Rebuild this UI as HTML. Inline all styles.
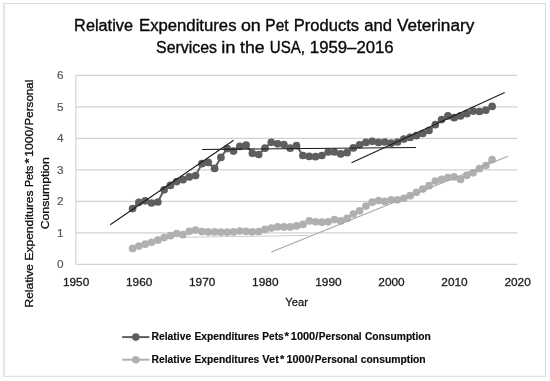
<!DOCTYPE html>
<html><head><meta charset="utf-8"><title>Relative Expenditures on Pet Products and Veterinary Services in the USA</title>
<style>
html,body{margin:0;padding:0;background:#fff;}
body{width:550px;height:381px;overflow:hidden;}
svg{display:block;font-family:"Liberation Sans",sans-serif;}
</style></head><body>
<svg width="550" height="381" viewBox="0 0 550 381">
<rect x="0" y="0" width="550" height="381" fill="#fff"/>
<rect x="3.5" y="3.5" width="542" height="372.8" fill="#fff" stroke="#dcdcdc" stroke-width="1"/>
<line x1="4.6" x2="4.6" y1="4" y2="375.8" stroke="#ececec" stroke-width="1.2"/>
<g fill="#0a0a0a" stroke="#0a0a0a" stroke-width="0.35" font-size="15.8px">
<text x="74.13" y="31.0" textLength="58.83" lengthAdjust="spacingAndGlyphs">Relative</text><text x="138.99" y="31.0" textLength="97.53" lengthAdjust="spacingAndGlyphs">Expenditures</text><text x="240.94" y="31.0" textLength="19.86" lengthAdjust="spacingAndGlyphs">on</text><text x="265.28" y="31.0" textLength="23.36" lengthAdjust="spacingAndGlyphs">Pet</text><text x="293.81" y="31.0" textLength="65.21" lengthAdjust="spacingAndGlyphs">Products</text><text x="364.18" y="31.0" textLength="27.75" lengthAdjust="spacingAndGlyphs">and</text><text x="397.00" y="31.0" textLength="77.20" lengthAdjust="spacingAndGlyphs">Veterinary</text>
<text x="156.10" y="53.4" textLength="60.89" lengthAdjust="spacingAndGlyphs">Services</text><text x="221.15" y="53.4" textLength="14.28" lengthAdjust="spacingAndGlyphs">in</text><text x="240.10" y="53.4" textLength="24.62" lengthAdjust="spacingAndGlyphs">the</text><text x="269.86" y="53.4" textLength="35.17" lengthAdjust="spacingAndGlyphs">USA,</text><text x="309.85" y="53.4" textLength="83.83" lengthAdjust="spacingAndGlyphs">1959–2016</text>
</g>
<g stroke="#d2d2d2" stroke-width="1.15"><line x1="75.8" x2="517.3" y1="264.3" y2="264.3"/><line x1="75.8" x2="517.3" y1="232.8" y2="232.8"/><line x1="75.8" x2="517.3" y1="201.3" y2="201.3"/><line x1="75.8" x2="517.3" y1="169.8" y2="169.8"/><line x1="75.8" x2="517.3" y1="138.3" y2="138.3"/><line x1="75.8" x2="517.3" y1="106.8" y2="106.8"/><line x1="75.8" x2="517.3" y1="75.3" y2="75.3"/><line x1="75.8" x2="75.8" y1="75.3" y2="264.3"/></g>
<g fill="#595959" stroke="#595959" stroke-width="0.2" font-size="11.8px"><text x="63.5" y="268.0" text-anchor="end">0</text><text x="63.5" y="236.5" text-anchor="end">1</text><text x="63.5" y="205.0" text-anchor="end">2</text><text x="63.5" y="173.5" text-anchor="end">3</text><text x="63.5" y="142.0" text-anchor="end">4</text><text x="63.5" y="110.5" text-anchor="end">5</text><text x="63.5" y="79.0" text-anchor="end">6</text></g><g fill="#1c1c1c" stroke="#1c1c1c" stroke-width="0.3" font-size="11.7px"><text x="76.1" y="285.7" text-anchor="middle" textLength="26.4" lengthAdjust="spacingAndGlyphs">1950</text><text x="139.2" y="285.7" text-anchor="middle" textLength="26.4" lengthAdjust="spacingAndGlyphs">1960</text><text x="202.2" y="285.7" text-anchor="middle" textLength="26.4" lengthAdjust="spacingAndGlyphs">1970</text><text x="265.3" y="285.7" text-anchor="middle" textLength="26.4" lengthAdjust="spacingAndGlyphs">1980</text><text x="328.4" y="285.7" text-anchor="middle" textLength="26.4" lengthAdjust="spacingAndGlyphs">1990</text><text x="391.5" y="285.7" text-anchor="middle" textLength="26.4" lengthAdjust="spacingAndGlyphs">2000</text><text x="454.5" y="285.7" text-anchor="middle" textLength="26.4" lengthAdjust="spacingAndGlyphs">2010</text><text x="517.6" y="285.7" text-anchor="middle" textLength="26.4" lengthAdjust="spacingAndGlyphs">2020</text></g>
<text x="285.3" y="305.6" font-size="11.4px" fill="#1a1a1a" stroke="#1a1a1a" stroke-width="0.3" textLength="22.6" lengthAdjust="spacingAndGlyphs">Year</text>
<g fill="#0a0a0a" stroke="#0a0a0a" stroke-width="0.3" font-size="11.3px">
<g transform="translate(32.8 0) rotate(-90)"><text x="-307.43" y="0.0" textLength="43.22" lengthAdjust="spacingAndGlyphs">Relative</text><text x="-260.54" y="0.0" textLength="70.01" lengthAdjust="spacingAndGlyphs">Expenditures</text><text x="-187.04" y="0.0" textLength="21.47" lengthAdjust="spacingAndGlyphs">Pets</text><text x="-163.52" y="0.0" textLength="5.41" lengthAdjust="spacingAndGlyphs">*</text><text x="-156.86" y="0.0" textLength="30.52" lengthAdjust="spacingAndGlyphs">1000/</text><text x="-125.40" y="0.0" textLength="45.67" lengthAdjust="spacingAndGlyphs">Personal</text></g>
<g transform="translate(49.3 0) rotate(-90)"><text x="-229.27" y="0.0" textLength="71.96" lengthAdjust="spacingAndGlyphs">Consumption</text></g>
</g>
<polyline fill="none" stroke="#b0b0b0" stroke-width="2" stroke-linejoin="round" points="132.6,248.4 138.9,246.1 145.2,244.2 151.5,242.3 157.8,240.2 164.1,237.6 170.4,235.7 176.7,233.5 183.0,234.7 189.3,231.3 195.6,230.0 201.9,231.6 208.2,231.9 214.6,231.9 220.9,232.2 227.2,232.2 233.5,231.9 239.8,231.0 246.1,231.3 252.4,231.9 258.7,231.6 265.0,229.4 271.3,228.1 277.6,226.9 283.9,226.9 290.2,226.9 296.5,225.9 302.9,224.4 309.2,220.9 315.5,221.8 321.8,222.2 328.1,221.8 334.4,219.6 340.7,220.9 347.0,218.4 353.3,214.0 359.6,210.8 365.9,206.1 372.2,202.2 378.5,200.5 384.8,201.4 391.2,199.8 397.5,199.8 403.8,198.3 410.1,195.7 416.4,192.3 422.7,189.1 429.0,185.7 435.3,181.0 441.6,179.4 447.9,177.5 454.2,176.9 460.5,179.4 466.8,175.3 473.1,172.8 479.4,168.7 485.8,165.5 492.1,159.6"/>
<g fill="#b0b0b0"><circle cx="132.6" cy="248.4" r="3.85"/><circle cx="138.9" cy="246.1" r="3.85"/><circle cx="145.2" cy="244.2" r="3.85"/><circle cx="151.5" cy="242.3" r="3.85"/><circle cx="157.8" cy="240.2" r="3.85"/><circle cx="164.1" cy="237.6" r="3.85"/><circle cx="170.4" cy="235.7" r="3.85"/><circle cx="176.7" cy="233.5" r="3.85"/><circle cx="183.0" cy="234.7" r="3.85"/><circle cx="189.3" cy="231.3" r="3.85"/><circle cx="195.6" cy="230.0" r="3.85"/><circle cx="201.9" cy="231.6" r="3.85"/><circle cx="208.2" cy="231.9" r="3.85"/><circle cx="214.6" cy="231.9" r="3.85"/><circle cx="220.9" cy="232.2" r="3.85"/><circle cx="227.2" cy="232.2" r="3.85"/><circle cx="233.5" cy="231.9" r="3.85"/><circle cx="239.8" cy="231.0" r="3.85"/><circle cx="246.1" cy="231.3" r="3.85"/><circle cx="252.4" cy="231.9" r="3.85"/><circle cx="258.7" cy="231.6" r="3.85"/><circle cx="265.0" cy="229.4" r="3.85"/><circle cx="271.3" cy="228.1" r="3.85"/><circle cx="277.6" cy="226.9" r="3.85"/><circle cx="283.9" cy="226.9" r="3.85"/><circle cx="290.2" cy="226.9" r="3.85"/><circle cx="296.5" cy="225.9" r="3.85"/><circle cx="302.9" cy="224.4" r="3.85"/><circle cx="309.2" cy="220.9" r="3.85"/><circle cx="315.5" cy="221.8" r="3.85"/><circle cx="321.8" cy="222.2" r="3.85"/><circle cx="328.1" cy="221.8" r="3.85"/><circle cx="334.4" cy="219.6" r="3.85"/><circle cx="340.7" cy="220.9" r="3.85"/><circle cx="347.0" cy="218.4" r="3.85"/><circle cx="353.3" cy="214.0" r="3.85"/><circle cx="359.6" cy="210.8" r="3.85"/><circle cx="365.9" cy="206.1" r="3.85"/><circle cx="372.2" cy="202.2" r="3.85"/><circle cx="378.5" cy="200.5" r="3.85"/><circle cx="384.8" cy="201.4" r="3.85"/><circle cx="391.2" cy="199.8" r="3.85"/><circle cx="397.5" cy="199.8" r="3.85"/><circle cx="403.8" cy="198.3" r="3.85"/><circle cx="410.1" cy="195.7" r="3.85"/><circle cx="416.4" cy="192.3" r="3.85"/><circle cx="422.7" cy="189.1" r="3.85"/><circle cx="429.0" cy="185.7" r="3.85"/><circle cx="435.3" cy="181.0" r="3.85"/><circle cx="441.6" cy="179.4" r="3.85"/><circle cx="447.9" cy="177.5" r="3.85"/><circle cx="454.2" cy="176.9" r="3.85"/><circle cx="460.5" cy="179.4" r="3.85"/><circle cx="466.8" cy="175.3" r="3.85"/><circle cx="473.1" cy="172.8" r="3.85"/><circle cx="479.4" cy="168.7" r="3.85"/><circle cx="485.8" cy="165.5" r="3.85"/><circle cx="492.1" cy="159.6" r="3.85"/></g>

<line x1="187" x2="308.6" y1="237.2" y2="235.4" stroke="#c6c6c6" stroke-width="0.9"/>
<line x1="271.4" y1="252" x2="508" y2="156.3" stroke="#a6a6a6" stroke-width="1.05"/>
<polyline fill="none" stroke="#5e5e5e" stroke-width="2" stroke-linejoin="round" points="132.6,208.6 138.9,202.3 145.2,200.8 151.5,203.0 157.8,202.0 164.1,189.8 170.4,185.4 176.7,181.6 183.0,179.7 189.3,176.9 195.6,175.6 201.9,163.7 208.2,162.4 214.6,168.4 220.9,157.4 227.2,148.6 233.5,151.1 239.8,146.4 246.1,145.1 252.4,153.3 258.7,154.5 265.0,148.2 271.3,142.3 277.6,143.8 283.9,144.5 290.2,148.2 296.5,145.7 302.9,155.5 309.2,156.4 315.5,156.7 321.8,155.5 328.1,152.0 334.4,152.0 340.7,153.9 347.0,152.7 353.3,147.9 359.6,144.8 365.9,142.4 372.2,141.3 378.5,142.4 384.8,142.0 391.2,143.2 397.5,142.0 403.8,139.1 410.1,137.4 416.4,135.7 422.7,133.5 429.0,130.5 435.3,124.7 441.6,119.6 447.9,115.9 454.2,117.7 460.5,115.9 466.8,113.7 473.1,111.1 479.4,111.5 485.8,110.2 492.1,106.4"/>
<g fill="#5e5e5e"><circle cx="132.6" cy="208.6" r="3.85"/><circle cx="138.9" cy="202.3" r="3.85"/><circle cx="145.2" cy="200.8" r="3.85"/><circle cx="151.5" cy="203.0" r="3.85"/><circle cx="157.8" cy="202.0" r="3.85"/><circle cx="164.1" cy="189.8" r="3.85"/><circle cx="170.4" cy="185.4" r="3.85"/><circle cx="176.7" cy="181.6" r="3.85"/><circle cx="183.0" cy="179.7" r="3.85"/><circle cx="189.3" cy="176.9" r="3.85"/><circle cx="195.6" cy="175.6" r="3.85"/><circle cx="201.9" cy="163.7" r="3.85"/><circle cx="208.2" cy="162.4" r="3.85"/><circle cx="214.6" cy="168.4" r="3.85"/><circle cx="220.9" cy="157.4" r="3.85"/><circle cx="227.2" cy="148.6" r="3.85"/><circle cx="233.5" cy="151.1" r="3.85"/><circle cx="239.8" cy="146.4" r="3.85"/><circle cx="246.1" cy="145.1" r="3.85"/><circle cx="252.4" cy="153.3" r="3.85"/><circle cx="258.7" cy="154.5" r="3.85"/><circle cx="265.0" cy="148.2" r="3.85"/><circle cx="271.3" cy="142.3" r="3.85"/><circle cx="277.6" cy="143.8" r="3.85"/><circle cx="283.9" cy="144.5" r="3.85"/><circle cx="290.2" cy="148.2" r="3.85"/><circle cx="296.5" cy="145.7" r="3.85"/><circle cx="302.9" cy="155.5" r="3.85"/><circle cx="309.2" cy="156.4" r="3.85"/><circle cx="315.5" cy="156.7" r="3.85"/><circle cx="321.8" cy="155.5" r="3.85"/><circle cx="328.1" cy="152.0" r="3.85"/><circle cx="334.4" cy="152.0" r="3.85"/><circle cx="340.7" cy="153.9" r="3.85"/><circle cx="347.0" cy="152.7" r="3.85"/><circle cx="353.3" cy="147.9" r="3.85"/><circle cx="359.6" cy="144.8" r="3.85"/><circle cx="365.9" cy="142.4" r="3.85"/><circle cx="372.2" cy="141.3" r="3.85"/><circle cx="378.5" cy="142.4" r="3.85"/><circle cx="384.8" cy="142.0" r="3.85"/><circle cx="391.2" cy="143.2" r="3.85"/><circle cx="397.5" cy="142.0" r="3.85"/><circle cx="403.8" cy="139.1" r="3.85"/><circle cx="410.1" cy="137.4" r="3.85"/><circle cx="416.4" cy="135.7" r="3.85"/><circle cx="422.7" cy="133.5" r="3.85"/><circle cx="429.0" cy="130.5" r="3.85"/><circle cx="435.3" cy="124.7" r="3.85"/><circle cx="441.6" cy="119.6" r="3.85"/><circle cx="447.9" cy="115.9" r="3.85"/><circle cx="454.2" cy="117.7" r="3.85"/><circle cx="460.5" cy="115.9" r="3.85"/><circle cx="466.8" cy="113.7" r="3.85"/><circle cx="473.1" cy="111.1" r="3.85"/><circle cx="479.4" cy="111.5" r="3.85"/><circle cx="485.8" cy="110.2" r="3.85"/><circle cx="492.1" cy="106.4" r="3.85"/></g>

<g stroke="#1a1a1a" stroke-width="1.05">
<line x1="110.2" y1="224.7" x2="233.6" y2="140.2"/>
<line x1="202" y1="149.4" x2="416" y2="147.4"/>
<line x1="351.5" y1="162.7" x2="504.7" y2="92.4"/>
</g>
<g>
<line x1="122.2" x2="149.4" y1="337.1" y2="337.1" stroke="#5e5e5e" stroke-width="2"/><circle cx="135.8" cy="337.1" r="3.8" fill="#5e5e5e"/>
<line x1="122.2" x2="149.4" y1="359.7" y2="359.7" stroke="#b0b0b0" stroke-width="2"/><circle cx="135.8" cy="359.7" r="3.8" fill="#b0b0b0"/>
<g fill="#0a0a0a" stroke="#0a0a0a" stroke-width="0.15" font-size="10.3px" font-weight="bold">
<text x="151.55" y="340.4" textLength="39.60" lengthAdjust="spacingAndGlyphs">Relative</text><text x="194.46" y="340.4" textLength="64.85" lengthAdjust="spacingAndGlyphs">Expenditures</text><text x="262.37" y="340.4" textLength="21.24" lengthAdjust="spacingAndGlyphs">Pets</text><text x="284.50" y="340.4" textLength="4.48" lengthAdjust="spacingAndGlyphs">*</text><text x="290.81" y="340.4" textLength="27.45" lengthAdjust="spacingAndGlyphs">1000/</text><text x="318.87" y="340.4" textLength="42.83" lengthAdjust="spacingAndGlyphs">Personal</text><text x="364.98" y="340.4" textLength="65.91" lengthAdjust="spacingAndGlyphs">Consumption</text>
<text x="151.55" y="362.8" textLength="39.60" lengthAdjust="spacingAndGlyphs">Relative</text><text x="194.46" y="362.8" textLength="64.85" lengthAdjust="spacingAndGlyphs">Expenditures</text><text x="262.30" y="362.8" textLength="16.55" lengthAdjust="spacingAndGlyphs">Vet</text><text x="280.10" y="362.8" textLength="4.38" lengthAdjust="spacingAndGlyphs">*</text><text x="286.42" y="362.8" textLength="27.35" lengthAdjust="spacingAndGlyphs">1000/</text><text x="314.87" y="362.8" textLength="42.63" lengthAdjust="spacingAndGlyphs">Personal</text><text x="360.78" y="362.8" textLength="64.92" lengthAdjust="spacingAndGlyphs">consumption</text>
</g></g>
</svg>
</body></html>
